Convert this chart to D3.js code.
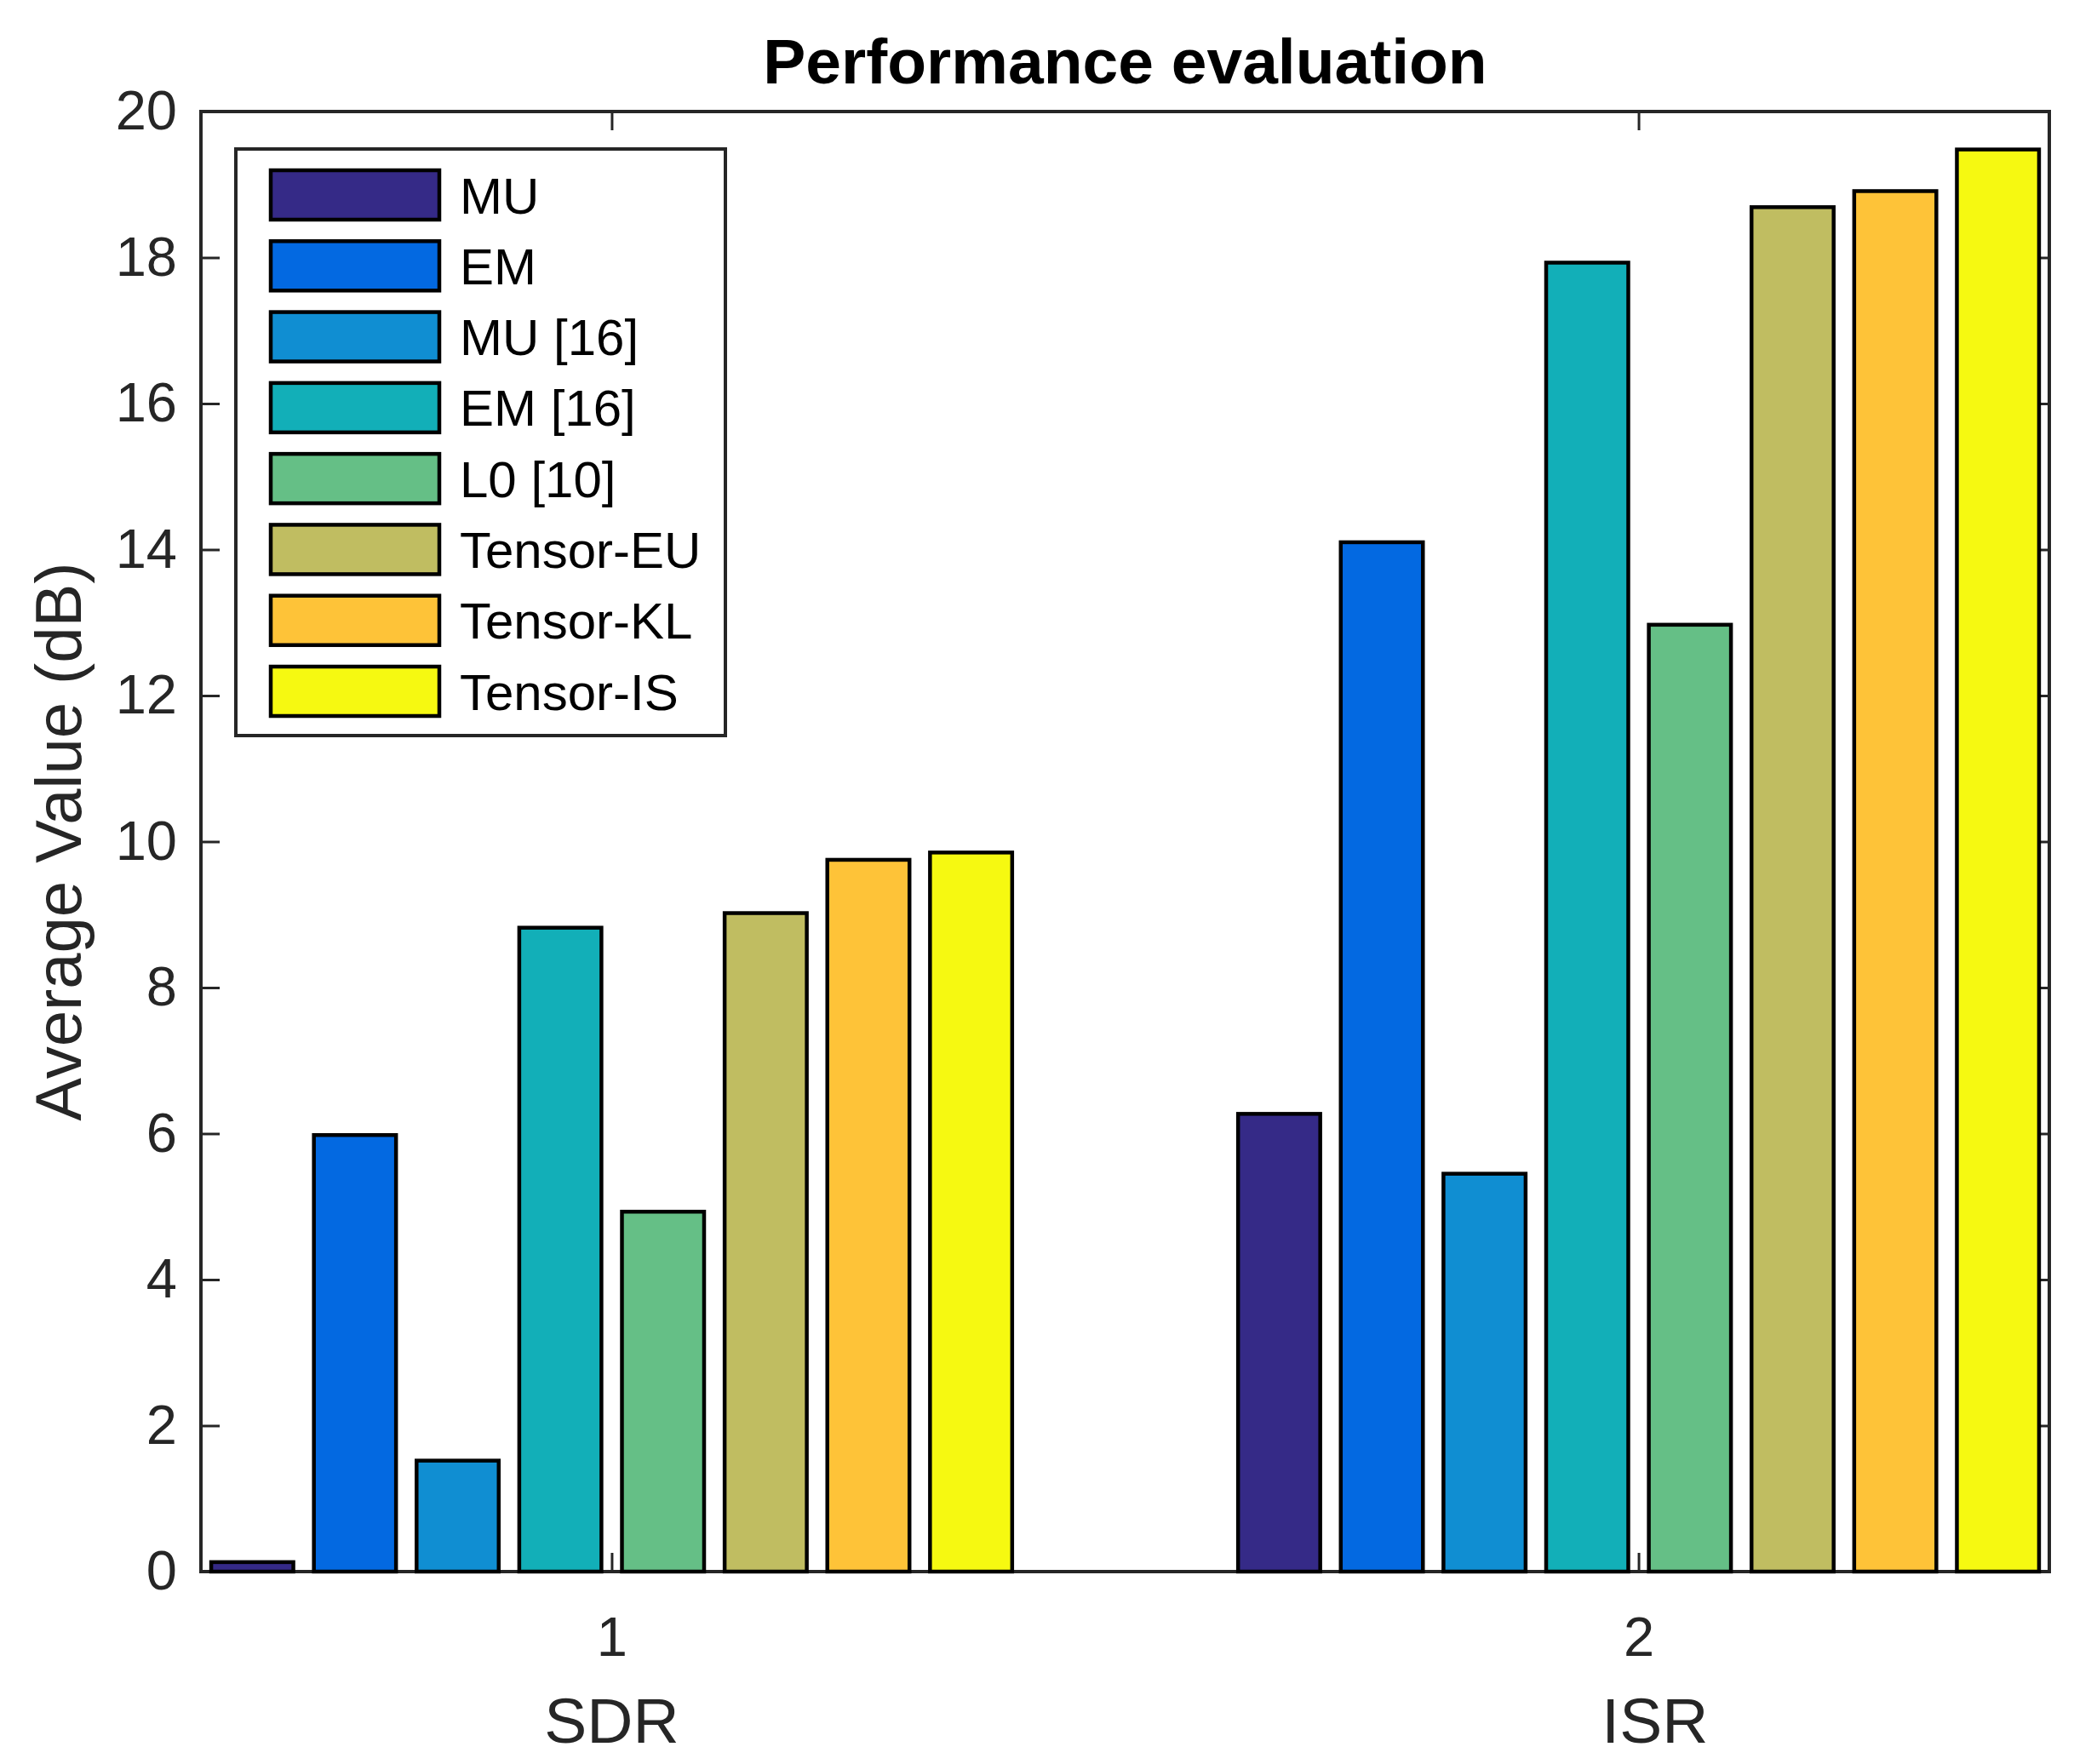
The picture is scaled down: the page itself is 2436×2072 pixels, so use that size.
<!DOCTYPE html>
<html>
<head>
<meta charset="utf-8">
<script src="https://cdn.jsdelivr.net/npm/d3@7"></script>
<style>
  body { margin: 0; background: #fff; }
  text { font-family: "Liberation Sans", Arial, Helvetica, sans-serif; }
</style>
</head>
<body>
<svg id="chart" width="2436" height="2072"></svg>
<script>
// data
var groups = [1, 2]
var groupNames = ['SDR', 'ISR']
var groupNamePos = [1, 2.016]
var series = ['MU', 'EM', 'MU [16]', 'EM [16]', 'L0 [10]', 'Tensor-EU', 'Tensor-KL', 'Tensor-IS']
var sdrValues = [0.13, 5.98, 1.52, 8.82, 4.93, 9.02, 9.75, 9.85]
var isrValues = [6.27, 14.1, 5.45, 17.93, 12.97, 18.69, 18.91, 19.48]
var colors = ['#352a87', '#0369e1', '#108ed2', '#12afb8', '#65bf86', '#c0bd61', '#fec338', '#f6f911']
var yTicks = [0, 2, 4, 6, 8, 10, 12, 14, 16, 18, 20]

var values = [sdrValues, isrValues]

var svg = d3.select('#chart')
// plot box (window.top is read-only, so no "top" here)
var axL = 236, axR = 2407, axT = 131, axB = 1846
var tickLen = 22
var axisColor = '#262626'

var x = d3.scaleLinear().domain([0.6, 2.4]).range([axL, axR])
var y = d3.scaleLinear().domain([0, 20]).range([axB, axT])

// grouped bars the way matlab lays them out: 8 slots in 0.8 of a unit
var slot = 0.8 / series.length
var barW = slot * 0.8

// axes frame and ticks
svg.append('rect')
  .attr('x', axL).attr('y', axT)
  .attr('width', axR - axL).attr('height', axB - axT)
  .attr('fill', 'none').attr('stroke', axisColor).attr('stroke-width', 4)

function styleAxis(g){
  g.select('.domain').remove()
  g.selectAll('line').attr('stroke', axisColor).attr('stroke-width', 3)
  g.selectAll('text').attr('fill', axisColor).style('font-size', '65px')
    .style('font-family', '"Liberation Sans", Arial, sans-serif')
}

svg.append('g').attr('transform', 'translate(' + axL + ',0)')
  .call(d3.axisLeft(y).tickValues(yTicks).tickSizeInner(-tickLen).tickSizeOuter(0).tickPadding(28))
  .call(styleAxis)
svg.append('g').attr('transform', 'translate(' + axR + ',0)')
  .call(d3.axisRight(y).tickValues(yTicks).tickSizeInner(-tickLen).tickSizeOuter(0).tickFormat(''))
  .call(styleAxis)
svg.append('g').attr('transform', 'translate(0,' + axB + ')')
  .call(d3.axisBottom(x).tickValues(groups).tickSizeInner(-tickLen).tickSizeOuter(0).tickPadding(53).tickFormat(d3.format('d')))
  .call(styleAxis)
svg.append('g').attr('transform', 'translate(0,' + axT + ')')
  .call(d3.axisTop(x).tickValues(groups).tickSizeInner(-tickLen).tickSizeOuter(0).tickFormat(''))
  .call(styleAxis)

// bars
var grp = svg.selectAll('.group')
  .data(groups)
  .enter().append('g').attr('class', 'group')

grp.selectAll('rect')
  .data(function(g, gi){ return values[gi].map(function(v, i){ return {g: g, i: i, v: v} }) })
  .enter().append('rect')
  .attr('x', function(d){ return x(d.g + (d.i - (series.length - 1) / 2) * slot - barW / 2) })
  .attr('width', function(d){ return x(barW) - x(0) })
  .attr('y', function(d){ return y(d.v) })
  .attr('height', function(d){ return y(0) - y(d.v) })
  .attr('fill', function(d){ return colors[d.i] })
  .attr('stroke', '#000').attr('stroke-width', 4.5)

// group names under the tick labels
svg.selectAll('.gname')
  .data(groupNames)
  .enter().append('text')
  .attr('x', function(d, i){ return x(groupNamePos[i]) })
  .attr('y', 2047)
  .attr('text-anchor', 'middle')
  .attr('fill', axisColor)
  .style('font-size', '75px')
  .text(function(d){ return d })

// axis label and title
svg.append('text')
  .attr('transform', 'translate(68,' + (axT + axB) / 2 + ') rotate(-90)')
  .attr('text-anchor', 'middle').attr('dy', '0.35em')
  .attr('fill', axisColor)
  .style('font-size', '76px')
  .text('Average Value (dB)')

svg.append('text')
  .attr('x', (axL + axR) / 2).attr('y', 71).attr('dy', '0.36em')
  .attr('text-anchor', 'middle')
  .attr('fill', '#000')
  .style('font-size', '75px').style('font-weight', 'bold')
  .text('Performance evaluation')

// legend
var lg = svg.append('g')
lg.append('rect')
  .attr('x', 277).attr('y', 175).attr('width', 575).attr('height', 689)
  .attr('fill', '#fff').attr('stroke', axisColor).attr('stroke-width', 4)

var rowY = d3.scaleLinear().domain([0, series.length - 1]).range([229, 812])
var item = lg.selectAll('.item')
  .data(series)
  .enter().append('g').attr('class', 'item')
  .attr('transform', function(d, i){ return 'translate(0,' + rowY(i) + ')' })
item.append('rect')
  .attr('x', 318).attr('y', -29).attr('width', 198).attr('height', 58)
  .attr('fill', function(d, i){ return colors[i] })
  .attr('stroke', '#000').attr('stroke-width', 4.5)
item.append('text')
  .attr('x', 540).attr('dy', '0.36em')
  .attr('fill', '#000')
  .style('font-size', '60px')
  .text(function(d){ return d })
</script>
</body>
</html>
